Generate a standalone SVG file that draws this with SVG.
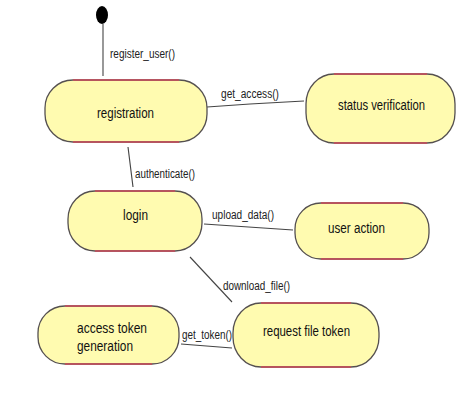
<svg xmlns="http://www.w3.org/2000/svg" width="474" height="411" viewBox="0 0 474 411">
<style>
.n{fill:#fffbb0;stroke:#555050;stroke-width:1.3}
.e{stroke:#c84858;stroke-width:1.3}
.t{font-family:"Liberation Sans",Arial,sans-serif;font-size:14px;fill:#111}
.l{font-family:"Liberation Sans",Arial,sans-serif;font-size:12px;fill:#222}
.c{stroke:#444;stroke-width:1.1;fill:none}
</style>
<rect width="474" height="411" fill="#fff"/>
<g id="connectors">
<line class="c" x1="103" y1="24" x2="103" y2="76"/>
<text class="l" x="110" y="58" textLength="65" lengthAdjust="spacingAndGlyphs">register_user()</text>
<path class="c" d="M207,107 L250,104 L304,101"/>
<text class="l" x="221" y="98" textLength="58" lengthAdjust="spacingAndGlyphs">get_access()</text>
<line class="c" x1="128" y1="147" x2="133" y2="187"/>
<text class="l" x="135" y="178" textLength="60" lengthAdjust="spacingAndGlyphs">authenticate()</text>
<line class="c" x1="204" y1="224" x2="293" y2="230"/>
<text class="l" x="212" y="219" textLength="62" lengthAdjust="spacingAndGlyphs">upload_data()</text>
<line class="c" x1="190" y1="257" x2="232" y2="302"/>
<text class="l" x="223" y="290" textLength="67" lengthAdjust="spacingAndGlyphs">download_file()</text>
<line class="c" x1="181" y1="344" x2="232" y2="348"/>
<text class="l" x="182" y="339" textLength="50" lengthAdjust="spacingAndGlyphs">get_token()</text>
</g>
<g id="start">
<ellipse cx="102" cy="15" rx="6" ry="9" fill="#000"/>
</g>
<g id="registration">
<rect class="n" x="45" y="80" width="162" height="62" rx="28" ry="28"/>
<line class="e" x1="73" y1="80" x2="179" y2="80"/>
<line class="e" x1="73" y1="142" x2="179" y2="142"/>
<text class="t" x="97" y="118" textLength="57" lengthAdjust="spacingAndGlyphs">registration</text>
</g>
<g id="status_verification">
<rect class="n" x="306" y="74" width="149" height="69" rx="28" ry="30"/>
<line class="e" x1="334" y1="74" x2="427" y2="74"/>
<line class="e" x1="334" y1="143" x2="427" y2="143"/>
<text class="t" x="338" y="110" textLength="87" lengthAdjust="spacingAndGlyphs">status verification</text>
</g>
<g id="login">
<rect class="n" x="68" y="191" width="134" height="60" rx="27" ry="28"/>
<line class="e" x1="95" y1="191" x2="175" y2="191"/>
<line class="e" x1="95" y1="251" x2="175" y2="251"/>
<text class="t" x="123" y="220" textLength="25" lengthAdjust="spacingAndGlyphs">login</text>
</g>
<g id="user_action">
<rect class="n" x="295" y="203" width="134" height="56" rx="26" ry="26"/>
<line class="e" x1="321" y1="203" x2="403" y2="203"/>
<line class="e" x1="321" y1="259" x2="403" y2="259"/>
<text class="t" x="328" y="233" textLength="57" lengthAdjust="spacingAndGlyphs">user action</text>
</g>
<g id="request_file_token">
<rect class="n" x="233" y="303" width="146" height="64" rx="28" ry="30"/>
<line class="e" x1="261" y1="303" x2="351" y2="303"/>
<line class="e" x1="261" y1="367" x2="351" y2="367"/>
<text class="t" x="263" y="336" textLength="87" lengthAdjust="spacingAndGlyphs">request file token</text>
</g>
<g id="access_token_generation">
<rect class="n" x="38" y="306" width="141" height="58" rx="27" ry="27"/>
<line class="e" x1="65" y1="306" x2="152" y2="306"/>
<line class="e" x1="65" y1="364" x2="152" y2="364"/>
<text class="t" x="77" y="333" textLength="70" lengthAdjust="spacingAndGlyphs">access token</text>
<text class="t" x="77" y="351" textLength="56" lengthAdjust="spacingAndGlyphs">generation</text>
</g>
</svg>
